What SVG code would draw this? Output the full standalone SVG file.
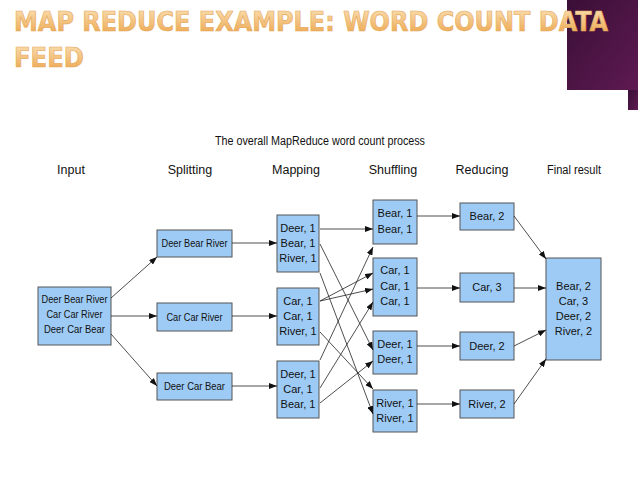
<svg xmlns="http://www.w3.org/2000/svg" width="638" height="478" viewBox="0 0 638 478">
<defs>
<linearGradient id="tg" x1="0" y1="0" x2="0" y2="1"><stop offset="0" stop-color="#fbe3b8"/><stop offset="1" stop-color="#eba247"/></linearGradient>
<linearGradient id="pg" x1="0" y1="0" x2="1" y2="1"><stop offset="0" stop-color="#3a0f36"/><stop offset="1" stop-color="#5e1a52"/></linearGradient>
<marker id="a" markerWidth="8" markerHeight="6" refX="8" refY="3" orient="auto" markerUnits="userSpaceOnUse"><path d="M0,0 L8,3 L0,6 z" fill="#111"/></marker>
</defs>
<style>
.b{fill:#9ecbf5;stroke:#555;stroke-width:1}
.t{font-family:"Liberation Sans",Arial,sans-serif;font-size:11px;fill:#111;text-anchor:middle}
.h{font-family:"Liberation Sans",Arial,sans-serif;font-size:12.5px;fill:#111;text-anchor:middle}
.ttl{font-family:"DejaVu Sans Condensed","DejaVu Sans",sans-serif;font-weight:bold;font-size:27px;fill:url(#tg);stroke:#e5a85b;stroke-width:0.6}
#conn line{stroke:#222;stroke-width:0.8;marker-end:url(#a)}
</style>
<rect width="638" height="478" fill="#fff"/>
<rect x="567" y="0" width="71" height="90" fill="url(#pg)"/>
<rect x="628" y="90" width="10" height="20" fill="url(#pg)"/>
<text class="ttl" x="14" y="31" textLength="594" lengthAdjust="spacingAndGlyphs">MAP REDUCE EXAMPLE: WORD COUNT DATA</text>
<text class="ttl" x="14" y="67" textLength="70" lengthAdjust="spacingAndGlyphs">FEED</text>
<text class="h" x="320" y="145" textLength="210" lengthAdjust="spacingAndGlyphs">The overall MapReduce word count process</text>
<g><text class="h" x="71" y="174">Input</text><text class="h" x="190" y="174">Splitting</text><text class="h" x="296" y="174">Mapping</text><text class="h" x="393" y="174">Shuffling</text><text class="h" x="482" y="174">Reducing</text><text class="h" x="574" y="174" textLength="54" lengthAdjust="spacingAndGlyphs">Final result</text></g>
<g id="input"><rect class="b" x="38" y="287" width="73" height="58"/><text class="t" x="74.5" y="303" textLength="66" lengthAdjust="spacingAndGlyphs">Deer Bear River</text><text class="t" x="74.5" y="318" textLength="56" lengthAdjust="spacingAndGlyphs">Car Car River</text><text class="t" x="74.5" y="333" textLength="61" lengthAdjust="spacingAndGlyphs">Deer Car Bear</text></g>
<g id="s1"><rect class="b" x="157" y="230" width="75" height="27"/><text class="t" x="194.5" y="247" textLength="66" lengthAdjust="spacingAndGlyphs">Deer Bear River</text></g>
<g id="s2"><rect class="b" x="157" y="303" width="75" height="28"/><text class="t" x="194.5" y="321" textLength="56" lengthAdjust="spacingAndGlyphs">Car Car River</text></g>
<g id="s3"><rect class="b" x="157" y="373" width="75" height="27"/><text class="t" x="194.5" y="390" textLength="61" lengthAdjust="spacingAndGlyphs">Deer Car Bear</text></g>
<g id="m1"><rect class="b" x="277" y="215" width="42" height="57"/><text class="t" x="298" y="232">Deer, 1</text><text class="t" x="298" y="247">Bear, 1</text><text class="t" x="298" y="262">River, 1</text></g>
<g id="m2"><rect class="b" x="277" y="288" width="42" height="57"/><text class="t" x="298" y="305">Car, 1</text><text class="t" x="298" y="320">Car, 1</text><text class="t" x="298" y="335">River, 1</text></g>
<g id="m3"><rect class="b" x="277" y="361" width="42" height="57"/><text class="t" x="298" y="378">Deer, 1</text><text class="t" x="298" y="393">Car, 1</text><text class="t" x="298" y="408">Bear, 1</text></g>
<g id="sh1"><rect class="b" x="373" y="200" width="44" height="44"/><text class="t" x="395" y="217">Bear, 1</text><text class="t" x="395" y="233">Bear, 1</text></g>
<g id="sh2"><rect class="b" x="373" y="258" width="44" height="58"/><text class="t" x="395" y="274">Car, 1</text><text class="t" x="395" y="290">Car, 1</text><text class="t" x="395" y="305">Car, 1</text></g>
<g id="sh3"><rect class="b" x="373" y="331" width="44" height="43"/><text class="t" x="395" y="348">Deer, 1</text><text class="t" x="395" y="363">Deer, 1</text></g>
<g id="sh4"><rect class="b" x="373" y="390" width="44" height="42"/><text class="t" x="395" y="407">River, 1</text><text class="t" x="395" y="422">River, 1</text></g>
<g id="r1"><rect class="b" x="460" y="203" width="54" height="27"/><text class="t" x="487" y="220">Bear, 2</text></g>
<g id="r2"><rect class="b" x="460" y="273" width="54" height="29"/><text class="t" x="487" y="291">Car, 3</text></g>
<g id="r3"><rect class="b" x="460" y="332" width="54" height="28"/><text class="t" x="487" y="350">Deer, 2</text></g>
<g id="r4"><rect class="b" x="460" y="390" width="54" height="28"/><text class="t" x="487" y="408">River, 2</text></g>
<g id="final"><rect class="b" x="546" y="258" width="55" height="102"/><text class="t" x="573.5" y="290">Bear, 2</text><text class="t" x="573.5" y="305">Car, 3</text><text class="t" x="573.5" y="320">Deer, 2</text><text class="t" x="573.5" y="335">River, 2</text></g>
<g id="conn">
<line x1="111" y1="298" x2="157" y2="257"/>
<line x1="111" y1="316" x2="157" y2="316"/>
<line x1="111" y1="334" x2="157" y2="386"/>
<line x1="232" y1="243" x2="277" y2="243"/>
<line x1="232" y1="316" x2="277" y2="316"/>
<line x1="232" y1="386" x2="277" y2="386"/>
<line x1="320" y1="229" x2="373" y2="229"/>
<line x1="320" y1="244" x2="373" y2="350"/>
<line x1="320" y1="273" x2="373" y2="414"/>
<line x1="320" y1="301" x2="373" y2="273"/>
<line x1="320" y1="301" x2="373" y2="289"/>
<line x1="320" y1="332" x2="373" y2="389"/>
<line x1="320" y1="360" x2="373" y2="247"/>
<line x1="320" y1="388" x2="373" y2="302"/>
<line x1="320" y1="403" x2="373" y2="361"/>
<line x1="417" y1="216" x2="460" y2="216"/>
<line x1="417" y1="288" x2="460" y2="288"/>
<line x1="417" y1="346" x2="460" y2="346"/>
<line x1="417" y1="404" x2="460" y2="404"/>
<line x1="514" y1="216" x2="546" y2="259"/>
<line x1="514" y1="288" x2="546" y2="288"/>
<line x1="514" y1="346" x2="546" y2="330"/>
<line x1="514" y1="404" x2="546" y2="359"/>
</g>
</svg>
